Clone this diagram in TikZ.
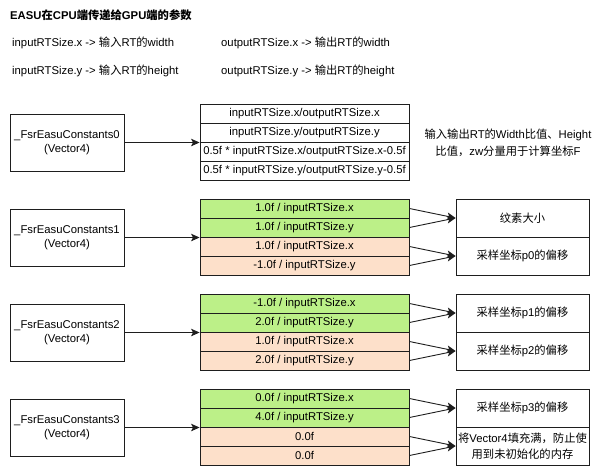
\documentclass[tikz,border=0pt]{standalone}
\usepackage{fontspec}
\setmainfont{Liberation Sans}
\newfontfamily\cjk{Noto Sans CJK SC}
\usetikzlibrary{arrows.meta}
\newcommand{\zh}[1]{{\cjk #1}}
\newcommand{\fsz}{\fontsize{11.3}{14}\selectfont}
\definecolor{gfill}{RGB}{188,240,136}
\definecolor{ofill}{RGB}{253,224,202}
\definecolor{linec}{RGB}{30,30,30}
\tikzset{
  lbox/.style={draw=linec, line width=0.9pt, minimum width=114pt, minimum height=57pt, inner sep=0pt, align=center, font=\fsz},
  rowbox/.style={draw=linec, line width=0.9pt, minimum width=209pt, minimum height=19pt, inner sep=0pt, font=\fsz},
  gr/.style={rowbox, fill=gfill},
  orr/.style={rowbox, fill=ofill},
  wr/.style={rowbox, fill=white},
  pbox/.style={draw=linec, line width=0.9pt, minimum width=133pt, minimum height=38pt, inner sep=0pt, align=center, font=\fsz},
  arr/.style={draw=linec, line width=0.9pt, -{Stealth[length=8.5pt,width=7.5pt,inset=2pt]}},
  txt/.style={anchor=west, inner sep=0pt, font=\fsz}
}
\begin{document}
\begin{tikzpicture}[x=1pt,y=1pt]
\useasboundingbox[fill=white] (0,0) rectangle (600,-467);
% header
\node[txt, font=\fsz\bfseries] (title) at (10,-15) {EASU\zh{在}CPU\zh{端传递给}GPU\zh{端的参数}};
\node[txt] (h1a) at (12,-43) {inputRTSize.x -> \zh{输入}RT\zh{的}width};
\node[txt] (h1b) at (221,-43) {outputRTSize.x -> \zh{输出}RT\zh{的}width};
\node[txt] (h2a) at (12,-71) {inputRTSize.y -> \zh{输入}RT\zh{的}height};
\node[txt] (h2b) at (221,-71) {outputRTSize.y -> \zh{输出}RT\zh{的}height};

% ---------- block 0 ----------
\node[lbox] (c0) at (67,-142.5) {\_FsrEasuConstants0\\(Vector4)};
\node[wr] (r0a) at (304.5,-113.5) {inputRTSize.x/outputRTSize.x};
\node[wr] (r0b) at (304.5,-132.5) {inputRTSize.y/outputRTSize.y};
\node[wr] (r0c) at (304.5,-151.5) {0.5f * inputRTSize.x/outputRTSize.x-0.5f};
\node[wr] (r0d) at (304.5,-170.5) {0.5f * inputRTSize.y/outputRTSize.y-0.5f};
\draw[arr] (c0.east) -- (c0.east -| r0b.west);
\node[align=center, font=\fontsize{11.3}{17}\selectfont, inner sep=0pt] (note0) at (508,-142.5)
  {\zh{输入输出}RT\zh{的}Width\zh{比值、}Height\\\zh{比值，}zw\zh{分量用于计算坐标}F};

% ---------- block 1 ----------
\node[lbox] (c1) at (67,-237.5) {\_FsrEasuConstants1\\(Vector4)};
\node[gr] (r1a) at (304.5,-208.5) {1.0f / inputRTSize.x};
\node[gr] (r1b) at (304.5,-227.5) {1.0f / inputRTSize.y};
\node[orr] (r1c) at (304.5,-246.5) {1.0f / inputRTSize.x};
\node[orr] (r1d) at (304.5,-265.5) {-1.0f / inputRTSize.y};
\draw[arr] (c1.east) -- (c1.east -| r1b.west);
\node[pbox] (p1a) at (522.5,-218) {\zh{纹素大小}};
\node[pbox] (p1b) at (522.5,-256) {\zh{采样坐标}p0\zh{的偏移}};
\draw[arr] (r1a.east) -- (p1a.west);
\draw[arr] (r1b.east) -- (p1a.west);
\draw[arr] (r1c.east) -- (p1b.west);
\draw[arr] (r1d.east) -- (p1b.west);

% ---------- block 2 ----------
\node[lbox] (c2) at (67,-332.5) {\_FsrEasuConstants2\\(Vector4)};
\node[gr] (r2a) at (304.5,-303.5) {-1.0f / inputRTSize.x};
\node[gr] (r2b) at (304.5,-322.5) {2.0f / inputRTSize.y};
\node[orr] (r2c) at (304.5,-341.5) {1.0f / inputRTSize.x};
\node[orr] (r2d) at (304.5,-360.5) {2.0f / inputRTSize.y};
\draw[arr] (c2.east) -- (c2.east -| r2b.west);
\node[pbox] (p2a) at (522.5,-313) {\zh{采样坐标}p1\zh{的偏移}};
\node[pbox] (p2b) at (522.5,-351) {\zh{采样坐标}p2\zh{的偏移}};
\draw[arr] (r2a.east) -- (p2a.west);
\draw[arr] (r2b.east) -- (p2a.west);
\draw[arr] (r2c.east) -- (p2b.west);
\draw[arr] (r2d.east) -- (p2b.west);

% ---------- block 3 ----------
\node[lbox] (c3) at (67,-427.5) {\_FsrEasuConstants3\\(Vector4)};
\node[gr] (r3a) at (304.5,-398.5) {0.0f / inputRTSize.x};
\node[gr] (r3b) at (304.5,-417.5) {4.0f / inputRTSize.y};
\node[orr] (r3c) at (304.5,-436.5) {0.0f};
\node[orr] (r3d) at (304.5,-455.5) {0.0f};
\draw[arr] (c3.east) -- (c3.east -| r3b.west);
\node[pbox] (p3a) at (522.5,-408) {\zh{采样坐标}p3\zh{的偏移}};
\node[pbox, font=\fontsize{11.3}{16}\selectfont] (p3b) at (522.5,-446) {\zh{将}Vector4\zh{填充满，防止使}\\\zh{用到未初始化的内存}};
\draw[arr] (r3a.east) -- (p3a.west);
\draw[arr] (r3b.east) -- (p3a.west);
\draw[arr] (r3c.east) -- (p3b.west);
\draw[arr] (r3d.east) -- (p3b.west);
\end{tikzpicture}
\end{document}
